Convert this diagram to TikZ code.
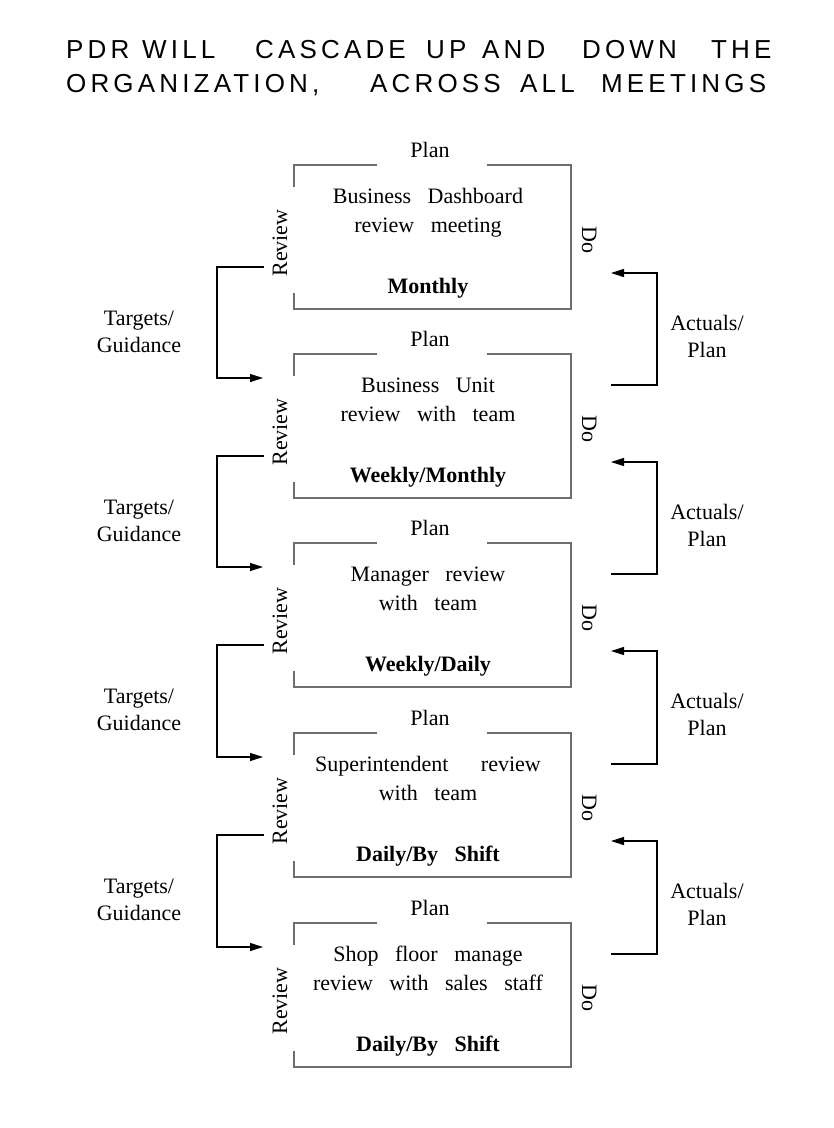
\documentclass[tikz,border=0pt]{standalone}
\usepackage{fontspec}
\setmainfont{Liberation Serif}
\newfontfamily\boxfont{Liberation Serif}[WordSpace=3]
\newfontfamily\titlefont{Liberation Sans}[LetterSpace=16]
\usetikzlibrary{arrows.meta,calc}
\definecolor{framegray}{HTML}{6E6E6E}
\begin{document}
\begin{tikzpicture}[x=1pt,y=-1pt,
  ttl/.style={font=\titlefont\fontsize{26}{30}\selectfont, anchor=base west, inner sep=0pt},
  boxtxt/.style={font=\boxfont\fontsize{22}{26}\selectfont, anchor=base, inner sep=0pt},
  lbl/.style={font=\fontsize{22}{27}\selectfont, anchor=base, inner sep=0pt},
  side/.style={font=\fontsize{22}{27}\selectfont, anchor=base, inner sep=0pt, align=center},
  frame/.style={draw=framegray, line width=1.5pt},
  conn/.style={line width=1.8pt},
  connarr/.style={line width=1.1pt, -{Triangle[length=13pt,width=8pt]}},
  blk/.style={minimum width=277pt, minimum height=144pt, inner sep=0pt}
]
\useasboundingbox (0,0) rectangle (834,1128);
\fill[white] (0,0) rectangle (834,1128);

% title
\node[ttl] (w1) at (66,58) {PDR};
\node[ttl] (w2) at (142,58) {WILL};
\node[ttl] (w3) at (255,58) {CASCADE};
\node[ttl] (w4) at (426,58) {UP};
\node[ttl] (w5) at (482,58) {AND};
\node[ttl] (w6) at (582,58) {DOWN};
\node[ttl] (w7) at (711,58) {THE};
\node[ttl] (w8) at (66,92) {ORGANIZATION,};
\node[ttl] (w9) at (370,92) {ACROSS};
\node[ttl] (w10) at (520,92) {ALL};
\node[ttl] (w11) at (601,92) {MEETINGS};

% boxes
\foreach \i/\t/\la/\lb/\lc in {
  1/165/{Business Dashboard}/{review meeting}/{Monthly},
  2/354/{Business Unit}/{review with team}/{Weekly/Monthly},
  3/543/{Manager review}/{with team}/{Weekly/Daily},
  4/733/{Superintendent\hspace{16pt} review}/{with team}/{Daily/By Shift},
  5/923/{Shop floor manage}/{review with sales staff}/{Daily/By Shift}}{
  \node[blk] (b\i) at (432.5,\t+72) {};
  \draw[frame] ($(b\i.north west)+(83,0)$) -- (b\i.north west) -- ($(b\i.north west)+(0,22)$);
  \draw[frame] ($(b\i.north west)+(0,128)$) -- (b\i.south west) -- (b\i.south east)
     -- (b\i.north east) -- ($(b\i.north east)+(-84,0)$);
  \node[boxtxt] (ta\i) at (428,\t+38) {\la};
  \node[boxtxt] (tb\i) at (428,\t+67) {\lb};
  \node[boxtxt] (tc\i) at (428,\t+128) {\bfseries \lc};
  \node[lbl] (pl\i) at (430,\t-8) {Plan};
  \node[lbl, rotate=90] (rv\i) at (287,\t+78) {Review};
  \node[lbl, rotate=-90] (do\i) at (582,\t+75) {Do};
}

% connectors
\foreach \i/\t/\u in {1/165/354, 2/354/543, 3/543/733, 4/733/923}{
  \coordinate (ls\i) at (264,\t+102);
  \coordinate (lk\i) at (217,\t+102);
  \coordinate (lm\i) at (217,\u+24);
  \coordinate (le\i) at (263,\u+24);
  \draw[conn] (ls\i) -- (lk\i) -- (lm\i);
  \draw[connarr] ([xshift=-0.9pt]lm\i) -- (le\i);
  \coordinate (rs\i) at (611,\u+31);
  \coordinate (rk\i) at (657,\u+31);
  \coordinate (rm\i) at (657,\t+108);
  \coordinate (re\i) at (611,\t+108);
  \draw[conn] (rs\i) -- (rk\i) -- (rm\i);
  \draw[connarr] ([xshift=0.9pt]rm\i) -- (re\i);
  \node[side] (tg\i) at (139,\t+187) {Targets/\\Guidance};
  \node[side] (ap\i) at (707,\t+192) {Actuals/\\Plan};
}
\end{tikzpicture}
\end{document}
